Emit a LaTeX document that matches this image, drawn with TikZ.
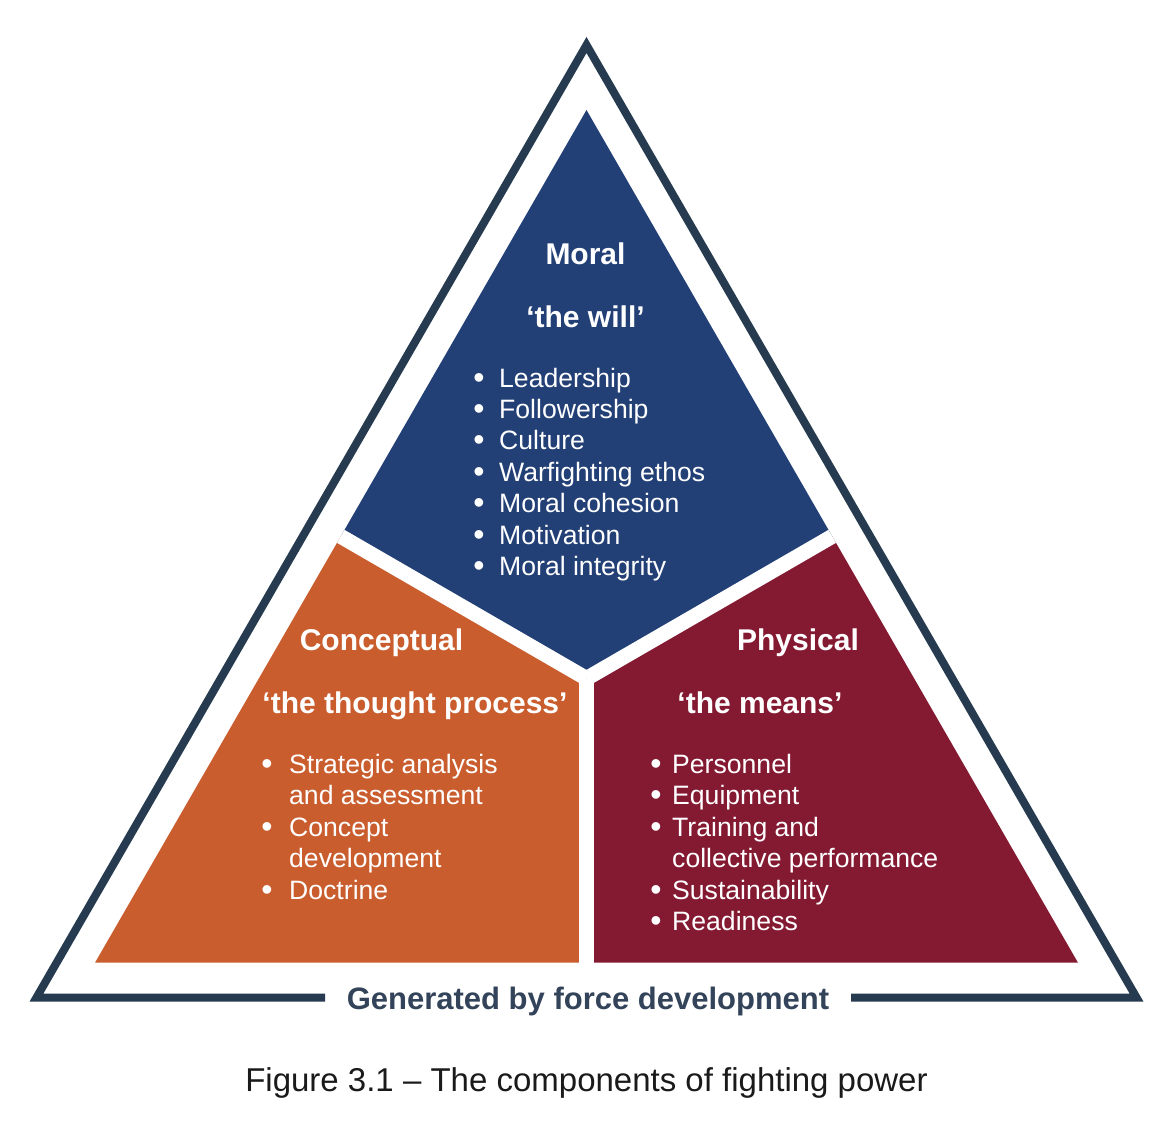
\documentclass[tikz,border=0pt]{standalone}
\usepackage{fontspec}
\setmainfont{Liberation Sans}
\definecolor{moralblue}{HTML}{224076}
\definecolor{conceptorange}{HTML}{C95D2E}
\definecolor{physred}{HTML}{841932}
\definecolor{outline}{HTML}{263B4F}
\definecolor{gentext}{HTML}{33445A}
\definecolor{captext}{HTML}{1A1A1A}
\begin{document}
\begin{tikzpicture}[x=1pt,y=-1pt,
  head/.style={text=white, font=\fontsize{30}{36}\selectfont\bfseries, inner sep=0pt, anchor=base},
  item/.style={text=white, font=\fontsize{26.6}{31}\selectfont, inner sep=0pt, anchor=base west},
  bul/.style={text=white, font=\fontsize{32}{31}\selectfont, inner sep=0pt, anchor=base},
  gap/.style={white, line width=15pt}
]
\useasboundingbox[fill=white] (0,0) rectangle (1170,1121);

% inner triangle coordinates
\coordinate (apex) at (586.5,110);
\coordinate (bl) at (95,962.7);
\coordinate (br) at (1078,962.7);
\coordinate (ctr) at (586.5,678.5);
\coordinate (ml) at (340.75,536.35);
\coordinate (mr) at (832.25,536.35);
\coordinate (mb) at (586.5,962.7);

\fill[moralblue] (apex) -- (mr) -- (ctr) -- (ml) -- cycle;
\fill[conceptorange] (ml) -- (ctr) -- (mb) -- (bl) -- cycle;
\fill[physred] (mr) -- (ctr) -- (mb) -- (br) -- cycle;
\draw[gap] (ctr) -- (ml);
\draw[gap] (ctr) -- (mr);
\draw[gap] (ctr) -- (mb);

% outer frame with gap for label
\node[font=\fontsize{31}{36}\selectfont\bfseries, text=gentext, inner sep=0pt, anchor=base] (gen) at (588,1009) {Generated by force development};
\coordinate (oL) at (36.5,997.5);
\coordinate (oT) at (586.5,45);
\coordinate (oR) at (1136.5,997.5);
\coordinate (gL) at (325,997.5);
\coordinate (gR) at (851,997.5);
\draw[outline, line width=8pt, miter limit=10] (gL) -- (oL) -- (oT) -- (oR) -- (gR);

% Moral
\node[head] (moral) at (585.5,264) {Moral};
\node[head] (will) at (585.5,327) {‘the will’};
\foreach \t [count=\i from 0] in {Leadership,Followership,Culture,Warfighting ethos,Moral cohesion,Motivation,Moral integrity}{
  \node[bul] (mb\i) at (479,388+31.4*\i) {•};
  \node[item] (mi\i) at (499,387+31.4*\i) {\t};
}

% Conceptual
\node[head] (concept) at (381.5,650) {Conceptual};
\node[head] (thought) at (415,713) {‘the thought process’};
\node[bul] (cb1) at (267,774) {•};
\node[item] (ci1) at (289,773) {Strategic analysis};
\node[item] (ci1b) at (289,804.5) {and assessment};
\node[bul] (cb2) at (267,837) {•};
\node[item] (ci2) at (289,836) {Concept};
\node[item] (ci2b) at (289,867.5) {development};
\node[bul] (cb3) at (267,900) {•};
\node[item] (ci3) at (289,899) {Doctrine};

% Physical
\node[head] (phys) at (798,650) {Physical};
\node[head] (means) at (760,713) {‘the means’};
\node[bul] (pb1) at (656,774) {•};
\node[item] (pi1) at (672,773) {Personnel};
\node[bul] (pb2) at (656,805.5) {•};
\node[item] (pi2) at (672,804.5) {Equipment};
\node[bul] (pb3) at (656,837) {•};
\node[item] (pi3) at (672,836) {Training and};
\node[item] (pi3b) at (672,867.5) {collective performance};
\node[bul] (pb4) at (656,900) {•};
\node[item] (pi4) at (672,899) {Sustainability};
\node[bul] (pb5) at (656,931.5) {•};
\node[item] (pi5) at (672,930.5) {Readiness};

% caption
\node[font=\fontsize{33}{38}\selectfont, text=captext, inner sep=0pt, anchor=base] (cap) at (586.5,1091) {Figure 3.1 – The components of fighting power};
\end{tikzpicture}
\end{document}
